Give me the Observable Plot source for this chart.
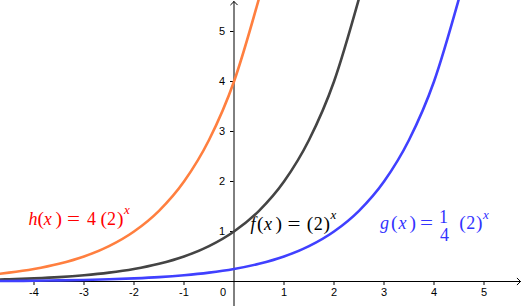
<!DOCTYPE html>
<html><head><meta charset="utf-8">
<script src="https://cdn.jsdelivr.net/npm/d3@7"></script>
<script src="https://cdn.jsdelivr.net/npm/@observablehq/plot@0.6"></script>
<style>html,body{margin:0;padding:0;background:#fff;} #chart svg{overflow:hidden;display:block}</style>
</head><body><div id="chart"></div>
<script>
// sample abscissas and values
const xSamples = [-4.7,-4.5,-4,-3.5,-3,-2.5,-2,-1.5,-1,-0.5,0,0.5,1,1.5,2,2.5,3,3.5,4,4.5];
const hValues = [0.154,0.177,0.25,0.354,0.5,0.707,1,1.414,2,2.83,4,5.66];
const fValues = [0.038,0.044,0.063,0.088,0.125,0.177,0.25,0.354,0.5,0.707,1,1.414,2,2.83,4,5.66];
const gValues = [0.0096,0.011,0.0156,0.0221,0.031,0.044,0.063,0.088,0.125,0.177,0.25,0.354,0.5,0.707,1,1.414,2,2.83,4,5.66];
const xTicks = [-4,-3,-2,-1,1,2,3,4,5];
const yTicks = [1,2,3,4,5];
const xDomain = [-4.67, 5.77];
const yDomain = [-0.5, 5.62];
const labelNames = ["h","f","g"];
const labelX = [-4.1, 0.31, 2.93];
const labelY = [1.13, 1.02, 1.04];

const toRows = vals => vals.map((y, i) => ({x: xSamples[i], y}));
const colors = {h: "#FF7F3F", f: "#444444", g: "#4040FF"};
const textColors = {h: "#FF0000", f: "#000000", g: "#3333FF"};

const plot = Plot.plot({
  width: 522, height: 306, margin: 0,
  x: {domain: xDomain, axis: null},
  y: {domain: yDomain, axis: null},
  style: {background: "#fff", fontFamily: "'Liberation Sans', Arial, sans-serif", fontSize: "11px"},
  marks: [
    Plot.arrow([0], {x1: xDomain[0], x2: xDomain[1] - 0.04, y1: 0, y2: 0, stroke: "#000", strokeWidth: 1, headLength: 7, headAngle: 90}),
    Plot.arrow([0], {x1: 0, x2: 0, y1: yDomain[0], y2: yDomain[1] - 0.02, stroke: "#000", strokeWidth: 1, headLength: 7, headAngle: 90}),
    Plot.ruleX(xTicks, {x: d => d, y1: 0, y2: -0.08, stroke: "#000", strokeWidth: 1}),
    Plot.ruleY(yTicks, {y: d => d, x1: -0.07, x2: 0, stroke: "#000", strokeWidth: 1}),
    Plot.text(xTicks, {x: d => d, y: 0, dy: 11, text: d => String(d), fill: "#000"}),
    Plot.text(["0"], {x: 0, y: 0, dx: -11, dy: 11, text: d => d, fill: "#000"}),
    Plot.text(yTicks, {x: 0, y: d => d, dx: -12, text: d => String(d), fill: "#000"}),
    Plot.line(toRows(hValues), {x: "x", y: "y", stroke: colors.h, strokeWidth: 2.6, curve: "monotone-x", clip: true}),
    Plot.line(toRows(fValues), {x: "x", y: "y", stroke: colors.f, strokeWidth: 2.6, curve: "monotone-x", clip: true}),
    Plot.line(toRows(gValues), {x: "x", y: "y", stroke: colors.g, strokeWidth: 2.6, curve: "monotone-x", clip: true})
  ]
});
document.getElementById("chart").append(plot);

const sx = plot.scale("x"), sy = plot.scale("y");
const svg = d3.select(plot);
function mathLabel(x0, y0, color, tokens) {
  const t = svg.append("text").attr("fill", color).attr("text-anchor", "start")
    .attr("font-family", "'Liberation Serif','Times New Roman',serif").attr("font-size", 18);
  for (const k of tokens) {
    const s = t.append("tspan").attr("x", x0 + k.o).attr("y", y0 + (k.dy || 0))
      .attr("text-anchor", k.a || "start").text(k.t);
    if (k.it) s.attr("font-style", "italic");
    if ("()".includes(k.t)) s.attr("font-size", 19.5);
    if (k.fs) s.attr("font-size", k.fs);
    if (k.w) s.attr("textLength", k.w).attr("lengthAdjust", "spacingAndGlyphs");
  }
}
const tokenSets = {
  h: [{t:"h",it:1,o:0},{t:"(",o:9},{t:"x",it:1,o:15.3},{t:")",o:27},{t:"=",o:38.5,w:13},{t:"4",o:58.5},{t:"(",o:72},{t:"2",o:78.5},{t:")",o:88.5},{t:"x",it:1,o:95.5,dy:-10.5,fs:13}],
  f: [{t:"f",it:1,o:1.5},{t:"(",o:8},{t:"x",it:1,o:15},{t:")",o:26.5},{t:"=",o:38.5,w:13},{t:"(",o:57.8},{t:"2",o:64.8},{t:")",o:74.5},{t:"x",it:1,o:81.5,dy:-11,fs:13}],
  g: [{t:"g",it:1,o:0},{t:"(",o:11},{t:"x",it:1,o:18.5},{t:")",o:29.5},{t:"=",o:40,w:13},{t:"1",o:63.5,a:"middle",dy:-6},{t:"4",o:64.5,a:"middle",dy:12},{t:"(",o:79.3},{t:"2",o:86.3},{t:")",o:96},{t:"x",it:1,o:103,dy:-10,fs:13}]
};
labelNames.forEach((n, i) => mathLabel(sx.apply(labelX[i]), sy.apply(labelY[i]), textColors[n], tokenSets[n]));
</script>
</body></html>
